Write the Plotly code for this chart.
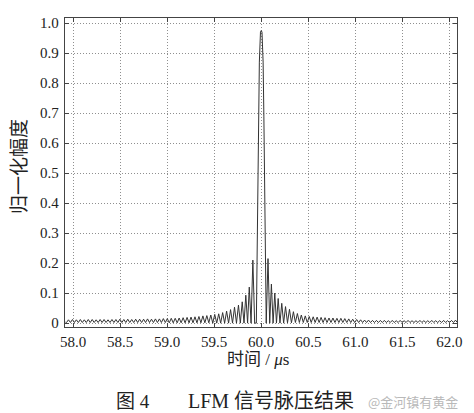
import plotly.graph_objects as go

# Time (us) and normalized amplitude (alternating trough / peak)
time_us = [
    57.920, 57.931, 57.952, 57.973, 57.994, 58.015, 58.036, 58.057, 58.078, 58.099,
    58.120, 58.141, 58.162, 58.183, 58.204, 58.225, 58.246, 58.267, 58.288, 58.309,
    58.330, 58.351, 58.372, 58.393, 58.414, 58.435, 58.456, 58.477, 58.498, 58.519,
    58.540, 58.561, 58.582, 58.603, 58.624, 58.645, 58.666, 58.687, 58.708, 58.729,
    58.750, 58.771, 58.792, 58.813, 58.834, 58.855, 58.876, 58.897, 58.918, 58.939,
    58.960, 58.981, 59.002, 59.023, 59.044, 59.065, 59.086, 59.107, 59.128, 59.149,
    59.170, 59.191, 59.212, 59.233, 59.254, 59.275, 59.296, 59.317, 59.338, 59.359,
    59.380, 59.401, 59.422, 59.443, 59.464, 59.485, 59.506, 59.527, 59.548, 59.569,
    59.590, 59.611, 59.632, 59.653, 59.674, 59.695, 59.716, 59.737, 59.758, 59.778,
    59.798, 59.817, 59.836, 59.855, 59.873, 59.892, 59.911, 59.930,
    59.948, 59.955, 59.962, 59.972, 59.980, 59.992, 60.000, 60.008, 60.020, 60.028,
    60.038, 60.045, 60.053,
    60.072, 60.090, 60.108, 60.126, 60.144, 60.162, 60.180, 60.199, 60.218, 60.238,
    60.258, 60.279, 60.300, 60.321, 60.342, 60.363, 60.384, 60.405, 60.426, 60.447,
    60.468, 60.489, 60.510, 60.531, 60.552, 60.573, 60.594, 60.615, 60.636, 60.657,
    60.678, 60.699, 60.720, 60.741, 60.762, 60.783, 60.804, 60.825, 60.846, 60.867,
    60.888, 60.909, 60.930, 60.951, 60.972, 60.993, 61.014, 61.035, 61.056, 61.077,
    61.098, 61.119, 61.140, 61.161, 61.182, 61.203, 61.224, 61.245, 61.266, 61.287,
    61.308, 61.329, 61.350, 61.371, 61.392, 61.413, 61.434, 61.455, 61.476, 61.497,
    61.518, 61.539, 61.560, 61.581, 61.602, 61.623, 61.644, 61.665, 61.686, 61.707,
    61.728, 61.749, 61.770, 61.791, 61.812, 61.833, 61.854, 61.875, 61.896, 61.917,
    61.938, 61.959, 61.980, 62.001, 62.022, 62.043, 62.064, 62.080,
]
amplitude = [
    0.003, 0.002, 0.011, 0.002, 0.012, 0.002, 0.011, 0.002, 0.012, 0.002,
    0.011, 0.002, 0.012, 0.002, 0.012, 0.002, 0.011, 0.002, 0.012, 0.002,
    0.012, 0.002, 0.011, 0.002, 0.012, 0.002, 0.012, 0.002, 0.013, 0.002,
    0.012, 0.002, 0.013, 0.002, 0.012, 0.002, 0.013, 0.002, 0.013, 0.002,
    0.013, 0.002, 0.014, 0.002, 0.013, 0.002, 0.014, 0.002, 0.014, 0.002,
    0.015, 0.002, 0.015, 0.001, 0.016, 0.001, 0.016, 0.001, 0.017, 0.001,
    0.018, 0.001, 0.019, 0.001, 0.020, 0.001, 0.021, 0.001, 0.022, 0.001,
    0.024, 0.001, 0.025, 0.001, 0.027, 0.000, 0.029, 0.000, 0.031, 0.000,
    0.035, 0.000, 0.040, 0.000, 0.045, 0.000, 0.053, 0.000, 0.060, 0.000,
    0.071, 0.000, 0.093, 0.000, 0.120, 0.000, 0.210, 0.000,
    0.000, 0.200, 0.460, 0.690, 0.870, 0.970, 0.975, 0.970, 0.870, 0.690,
    0.460, 0.200, 0.000,
    0.215, 0.000, 0.130, 0.000, 0.100, 0.000, 0.082, 0.000, 0.066, 0.000,
    0.055, 0.001, 0.046, 0.001, 0.038, 0.002, 0.032, 0.002, 0.027, 0.002,
    0.024, 0.002, 0.022, 0.002, 0.021, 0.002, 0.020, 0.002, 0.019, 0.002,
    0.018, 0.002, 0.017, 0.002, 0.017, 0.002, 0.016, 0.002, 0.016, 0.002,
    0.015, 0.002, 0.014, 0.002, 0.013, 0.002, 0.012, 0.002, 0.011, 0.002,
    0.010, 0.002, 0.010, 0.002, 0.009, 0.002, 0.009, 0.002, 0.009, 0.002,
    0.009, 0.002, 0.008, 0.002, 0.009, 0.002, 0.008, 0.002, 0.009, 0.002,
    0.008, 0.002, 0.009, 0.002, 0.008, 0.002, 0.008, 0.002, 0.009, 0.002,
    0.008, 0.002, 0.008, 0.002, 0.009, 0.002, 0.008, 0.002, 0.008, 0.002,
    0.009, 0.002, 0.008, 0.002, 0.009, 0.002, 0.010, 0.003,
]

x_ticks = [58.0, 58.5, 59.0, 59.5, 60.0, 60.5, 61.0, 61.5, 62.0]
x_tick_text = ["58.0", "58.5", "59.0", "59.5", "60.0", "60.5", "61.0", "61.5", "62.0"]
y_ticks = [0, 0.1, 0.2, 0.3, 0.4, 0.5, 0.6, 0.7, 0.8, 0.9, 1.0]
y_tick_text = ["0", "0.1", "0.2", "0.3", "0.4", "0.5", "0.6", "0.7", "0.8", "0.9", "1.0"]

SERIF = "Times New Roman, Liberation Serif, serif"
CJK = "Noto Sans CJK SC"
MIXED = "Times New Roman, Liberation Serif, Noto Sans CJK SC, serif"

W, H = 474, 413
PL, PR, PT, PB = 65, 457, 18, 327   # plot area in page pixels


def px(xp):
    return (xp - PL) / (PR - PL)


def py(yp):
    return (PB - yp) / (PB - PT)


def note(text, x, y, family, size, color="#222222", angle=0):
    return dict(text=text, x=px(x), y=py(y), xref="paper", yref="paper",
                xanchor="center", yanchor="middle", showarrow=False,
                textangle=angle, font=dict(family=family, size=size, color=color))


fig = go.Figure()
fig.add_trace(go.Scatter(
    x=time_us, y=amplitude, mode="lines",
    line=dict(color="#333333", width=1),
    showlegend=False, hoverinfo="skip",
))

axis_common = dict(
    showline=True, linecolor="#444444", linewidth=1.3, mirror="allticks",
    ticks="inside", ticklen=4, tickcolor="#444444",
    showgrid=True, gridcolor="#8f8f8f", griddash="1px,2px", gridwidth=1,
    zeroline=False,
    tickfont=dict(family=SERIF, size=15, color="#222222"),
)

fig.update_layout(
    width=W, height=H,
    margin=dict(l=PL, r=W - PR, t=PT, b=H - PB, autoexpand=False),
    paper_bgcolor="white", plot_bgcolor="white",
    xaxis=dict(range=[57.915, 62.08], tickvals=x_ticks, ticktext=x_tick_text,
               ticklabelstandoff=1, automargin=False, **axis_common),
    yaxis=dict(range=[-0.013, 1.017], tickvals=y_ticks, ticktext=y_tick_text,
               ticklabelstandoff=2, automargin=False, **axis_common),
    annotations=[
        note("归一化幅度", 17, 167, CJK, 19, angle=-90),
        note("时间 / <i>μ</i>s", 258, 359, MIXED, 17),
        note("图 4", 133, 401, MIXED, 19),
        note("LFM 信号脉压结果", 271, 401, MIXED, 20),
        note("@金河镇有黄金", 413, 401, CJK, 13, color="#b9b9b9"),
    ],
)

fig.write_html("out.html", config={"displayModeBar": False},
               post_script="document.body.style.margin='0';")
